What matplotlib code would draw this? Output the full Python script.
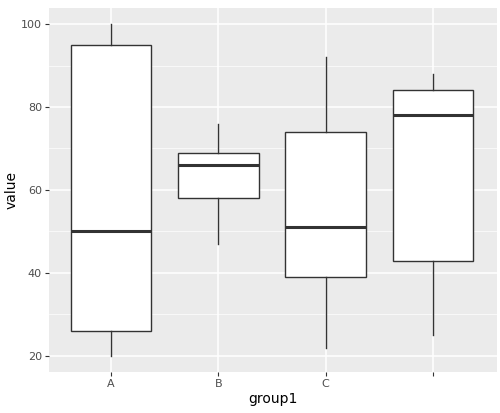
import matplotlib
matplotlib.use("Agg")
import matplotlib.pyplot as plt

groups = ["A", "B", "C", "D"]
tick_labels = ["A", "B", "C", ""]
whislo = [20, 47, 22, 25]
q1 = [26, 58, 39, 43]
med = [50, 66, 51, 78]
q3 = [95, 69, 74, 84]
whishi = [100, 76, 92, 88]

fig = plt.figure(figsize=(5, 4.13), dpi=100)
ax = fig.add_axes([0.098, 0.099, 0.896, 0.882])
ax.set_facecolor("#EBEBEB")
stats = [dict(label=l, whislo=a, q1=b, med=c, q3=d, whishi=e)
         for l, a, b, c, d, e in zip(tick_labels, whislo, q1, med, q3, whishi)]
ax.bxp(stats, positions=range(1, 5), widths=0.75, showfliers=False, patch_artist=True,
       boxprops=dict(facecolor="white", edgecolor="#333333", linewidth=1),
       medianprops=dict(color="#333333", linewidth=2.2),
       whiskerprops=dict(color="#333333", linewidth=1),
       capprops=dict(linewidth=0), zorder=3)
ax.set_xlim(0.42, 4.6)
ax.set_ylim(16.1, 103.9)
ax.set_yticks([20, 40, 60, 80, 100])
ax.set_yticks([30, 50, 70, 90], minor=True)
ax.set_xticks(range(1, 5))
ax.set_xticklabels(tick_labels)
ax.grid(True, which="major", color="white", linewidth=1.1, zorder=0)
ax.grid(True, which="minor", axis="y", color="white", linewidth=0.5, zorder=0)
ax.set_axisbelow(True)
for s in ax.spines.values():
    s.set_visible(False)
ax.tick_params(which="both", length=3, color="#333333", labelsize=8, labelcolor="#4D4D4D", pad=2)
ax.tick_params(which="minor", length=0)
ax.set_xlabel("group1", fontsize=10, labelpad=2)
ax.set_ylabel("value", fontsize=10, labelpad=2)
fig.savefig("out.png", dpi=100)
